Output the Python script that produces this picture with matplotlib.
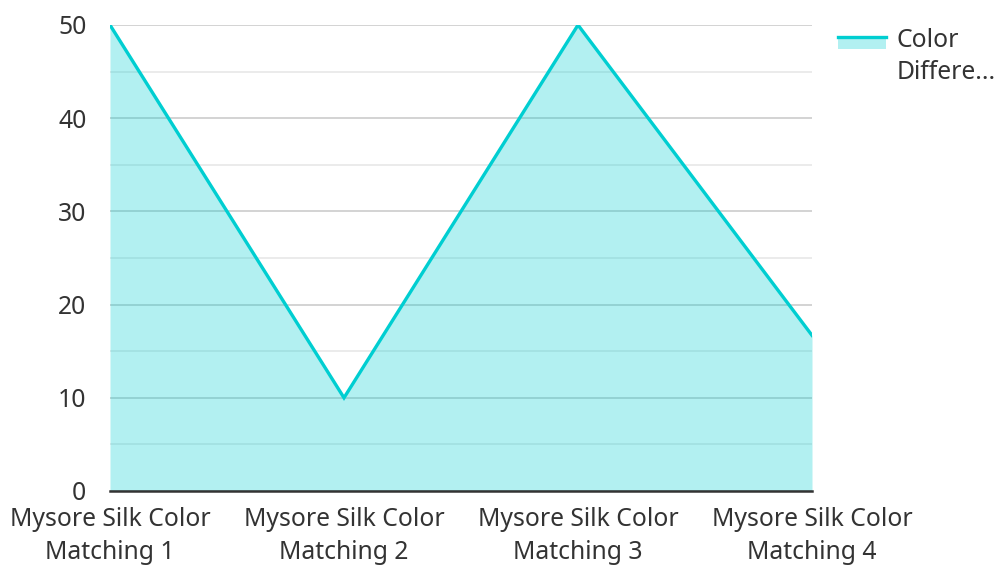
import matplotlib
matplotlib.use("Agg")
import matplotlib.pyplot as plt
from matplotlib.lines import Line2D
from matplotlib.patches import Rectangle

categories = ["Mysore Silk Color\nMatching 1", "Mysore Silk Color\nMatching 2",
              "Mysore Silk Color\nMatching 3", "Mysore Silk Color\nMatching 4"]
values = [50, 10, 50, 16.7]
series_name = "Color\nDiffere..."
y_ticks = [0, 10, 20, 30, 40, 50]
minor_ticks = [5, 15, 25, 35, 45]

line_color = "#00CED1"
fill_color = "#00CED1"
fill_alpha = 0.3
text_color = "#333333"
fs = 17.8

plt.rcParams['font.family'] = ['Noto Sans', 'DejaVu Sans']

W, H = 998, 567
fig = plt.figure(figsize=(W/100, H/100), dpi=100)
ax = fig.add_axes([110/W, 1-491/H, (812-110)/W, (491-25)/H])

x = list(range(len(categories)))
ax.fill_between(x, values, 0, color=fill_color, alpha=fill_alpha, linewidth=0, zorder=3)
ax.plot(x, values, color=line_color, linewidth=2.4, zorder=4, solid_joinstyle='miter')

ax.set_xlim(0, len(categories)-1)
ax.set_ylim(0, 50)
ax.set_yticks(y_ticks)
ax.set_yticks(minor_ticks, minor=True)
ax.grid(axis='y', which='major', color='#cccccc', linewidth=1.2, zorder=1)
ax.grid(axis='y', which='minor', color='#e8e8e8', linewidth=1.2, zorder=1)
ax.set_axisbelow(True)
for s in ['top', 'right', 'left']:
    ax.spines[s].set_visible(False)
ax.spines['bottom'].set_color('#333333')
ax.spines['bottom'].set_linewidth(1.8)
ax.spines['bottom'].set_zorder(5)

ax.set_xticks(x)
ax.set_xticklabels(categories, fontsize=fs, color=text_color, linespacing=1.42)
ax.tick_params(axis='x', length=0, pad=11.5)
ax.tick_params(axis='y', which='both', length=0, pad=17, labelsize=fs, labelcolor=text_color)

# legend
fig.add_artist(Rectangle((838/W, 1-49/H), 48/W, 12/H, transform=fig.transFigure,
                         facecolor=fill_color, alpha=fill_alpha, edgecolor='none'))
fig.add_artist(Line2D([838/W, 886/W], [1-37/H, 1-37/H], transform=fig.transFigure,
                      color=line_color, linewidth=2.4))
fig.text(897/W, 1-79/H, series_name, fontsize=fs, color=text_color,
         ha='left', va='baseline', linespacing=1.37)

fig.savefig("out.png", dpi=100)
